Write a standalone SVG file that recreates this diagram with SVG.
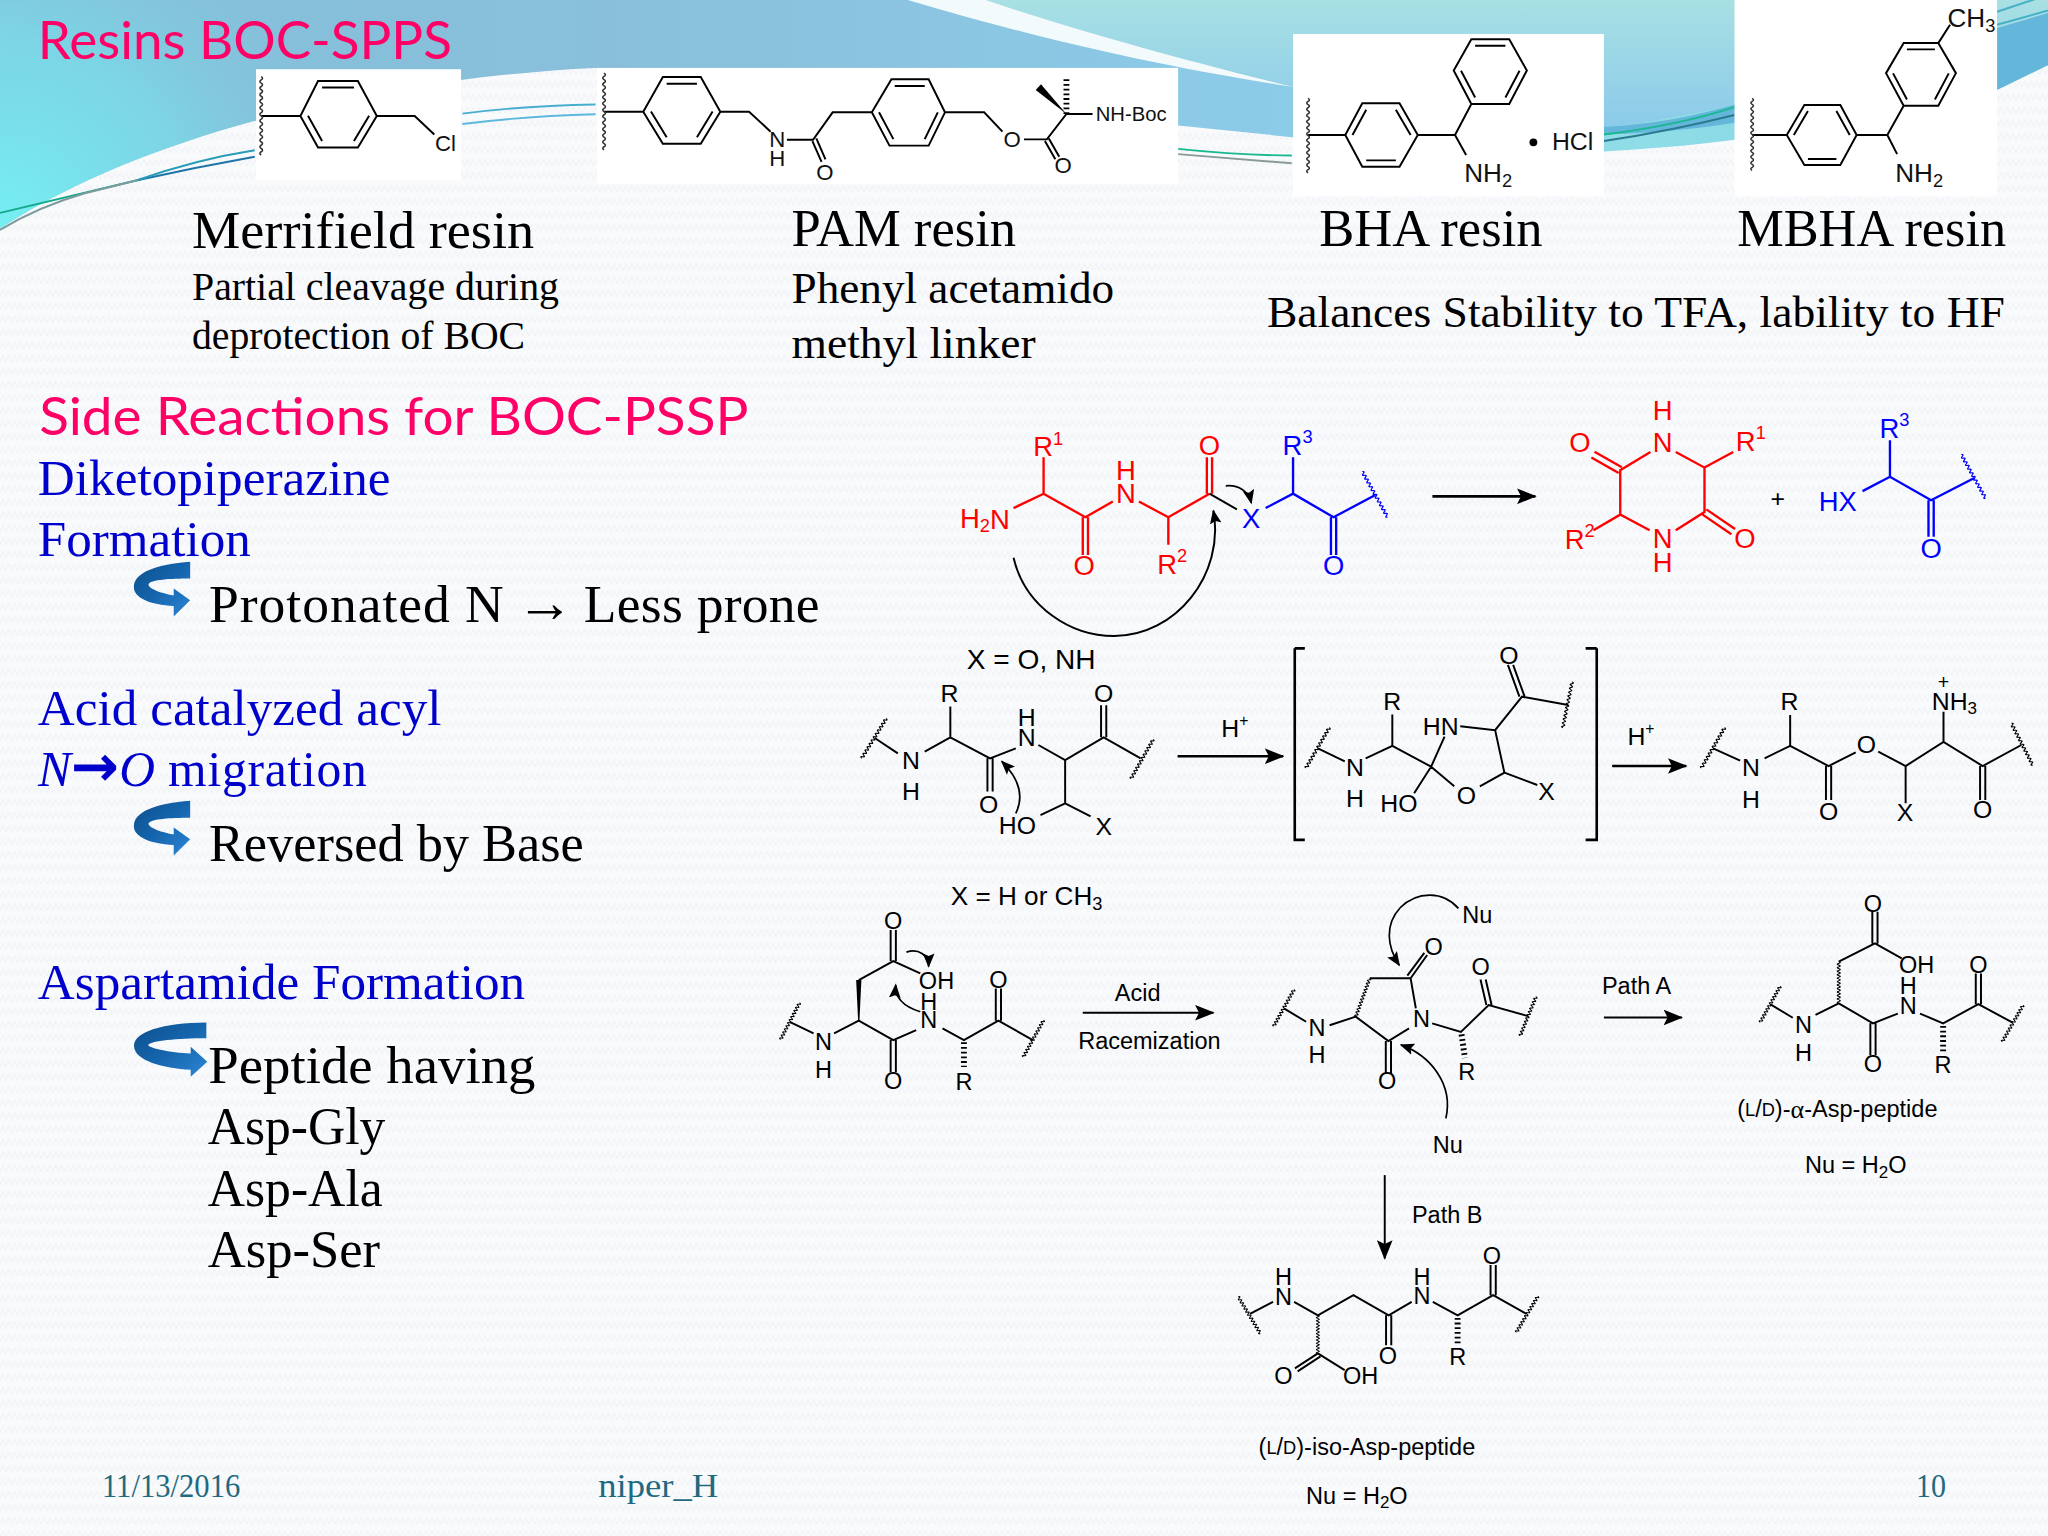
<svg xmlns="http://www.w3.org/2000/svg" width="2048" height="1536" viewBox="0 0 2048 1536">
<style>
text{font-family:"Liberation Sans",Arial,sans-serif}
.s{font-family:"Liberation Serif","Times New Roman",serif;fill:#000}
.t{font-size:40px}.m{font-size:34px}.n{font-size:31px}
.u{font-family:"Liberation Serif","Times New Roman",serif;fill:#0000cc;font-size:38px}
.p{font-family:Lato,"Open Sans",sans-serif;fill:#ff0066;font-size:40px}
.f{font-family:"Liberation Serif","Times New Roman",serif;fill:#1f6a80;font-size:26px}
.b{fill:none;stroke:#000;stroke-width:1.5}
.r{fill:none;stroke:#f00;stroke-width:1.8}
.l{fill:none;stroke:#00f;stroke-width:1.8}
.h{stroke:#000;stroke-width:4.5;stroke-dasharray:1.4 2.2;fill:none}
.a{fill:none;stroke:#000;stroke-width:2;marker-end:url(#ah)}
.c{fill:none;stroke:#000;stroke-width:1.5;marker-end:url(#sh)}
.d{fill:none;stroke:#000;stroke-width:1.3;marker-end:url(#sh)}
.x1{font-size:21px;dominant-baseline:central;text-anchor:middle;fill:#f00}
.x2{font-size:21px;dominant-baseline:central;text-anchor:middle;fill:#00f}
.y{font-size:19px;dominant-baseline:central;text-anchor:middle;fill:#000}
.z{font-size:18px;dominant-baseline:central;text-anchor:middle;fill:#000}
.q{font-size:17px;dominant-baseline:central;text-anchor:middle;fill:#111}
.g{font-size:20px;dominant-baseline:central;fill:#111}
.i{fill:url(#ribbon)}
</style>
<defs>
<linearGradient id="sky" gradientUnits="userSpaceOnUse" x1="0" y1="0" x2="1568" y2="0">
<stop offset="0" stop-color="#84c0da"/><stop offset=".3" stop-color="#89bfda"/><stop offset=".62" stop-color="#8ccbe8"/><stop offset=".8" stop-color="#8fdde6"/><stop offset="1" stop-color="#7fd0e0"/>
</linearGradient>
<radialGradient id="glow" gradientUnits="userSpaceOnUse" cx="0" cy="175" r="270">
<stop offset="0" stop-color="#75f0f2"/><stop offset=".55" stop-color="#7adbe8" stop-opacity=".75"/><stop offset="1" stop-color="#84c0da" stop-opacity="0"/>
</radialGradient>
<linearGradient id="pale" gradientUnits="userSpaceOnUse" x1="0" y1="0" x2="0" y2="95">
<stop offset="0" stop-color="#a8e0e3"/><stop offset="1" stop-color="#8ccbea"/>
</linearGradient>
<linearGradient id="ribbon" x1="0" y1="0" x2="1" y2="1">
<stop offset="0" stop-color="#0d4f8c"/><stop offset=".5" stop-color="#1565ad"/><stop offset="1" stop-color="#2c86d6"/>
</linearGradient>
<pattern id="zig" patternUnits="userSpaceOnUse" width="9" height="10">
<path d="M0,7 L2.25,2 L4.5,7 L6.75,2 L9,7" fill="none" stroke="#eef0f5" stroke-width=".7"/>
</pattern>
<marker id="ah" markerUnits="userSpaceOnUse" markerWidth="15" markerHeight="12" refX="14" refY="6" orient="auto"><path d="M0,0 L15,6 L0,12 L3,6 Z"/></marker>
<marker id="sh" markerUnits="userSpaceOnUse" markerWidth="11" markerHeight="9" refX="10" refY="4.5" orient="auto"><path d="M0,0 L11,4.5 L0,9 L2,4.5 Z"/></marker>
<path id="wv" d="M0,0 q2,1.25 0,2.5 q-2,1.25 0,2.5 q2,1.25 0,2.5 q-2,1.25 0,2.5 q2,1.25 0,2.5 q-2,1.25 0,2.5 q2,1.25 0,2.5 q-2,1.25 0,2.5 q2,1.25 0,2.5 q-2,1.25 0,2.5 q2,1.25 0,2.5 q-2,1.25 0,2.5 q2,1.25 0,2.5 q-2,1.25 0,2.5 q2,1.25 0,2.5 q-2,1.25 0,2.5 q2,1.25 0,2.5 q-2,1.25 0,2.5 q2,1.25 0,2.5 q-2,1.25 0,2.5 q2,1.25 0,2.5 q-2,1.25 0,2.5 q2,1.25 0,2.5 q-2,1.25 0,2.5" fill="none" stroke-width="1.2"/>
<path id="skypath" d="M0,0 H1568 V50 C1480,78 1400,100 1328,107 C1290,112 1260,114 1228,116 C1150,120 1050,112 989,105 L902,96 C800,75 700,60 600,52 L455,52 C330,58 130,90 0,175 Z"/>
</defs>
<g transform="scale(1.30612)">
<g id="background">
<rect width="1568" height="1176" fill="#f9fafc"/>
<rect width="1568" height="1176" fill="url(#zig)"/>
<use href="#skypath" fill="url(#sky)"/>
<use href="#skypath" fill="url(#glow)"/>
<path d="M755,0 H1568 V10 L1529,26 C1450,55 1400,75 1328,80 C1290,88 1260,95 1228,97 L1000,100 L992,67 C900,45 800,16 755,0 Z" fill="url(#pale)"/>
<path d="M1228,97 C1270,95 1300,88 1328,80 L1568,10 V50 L1529,69 C1450,85 1390,90 1328,94 C1290,100 1260,102 1228,103 Z" fill="#64b6da"/>
<path d="M695,0 L755,0 C800,16 900,45 992,67 C950,60 850,46 695,0 Z" fill="#f2fafb"/>
<g fill="none" stroke-width="1.5">
<path d="M0,163 Q55,150 105,138" stroke="#12a88c"/><path d="M105,138 Q150,128 195,120" stroke="#1f74a8"/>
<path d="M0,176 Q30,158 65,148 L105,138" stroke="#7d9a9c"/><path d="M105,138 Q150,122 195,115" stroke="#2a9cb8"/>
<path d="M354,87 Q400,81 456,80" stroke="#48aed0"/><path d="M354,95 Q400,89 456,87.5" stroke="#5cb8dc"/>
<path d="M902,114 Q950,119 989,119" stroke="#18b890"/><path d="M902,118 Q950,122 989,125" stroke="#8a9a9a"/>
<path d="M1228,103 Q1285,96 1328,82" stroke="#18b890"/><path d="M1228,108 Q1280,100 1328,88" stroke="#2a7a90"/>
<path d="M1529,9 L1568,-4" stroke="#45b0c8"/><path d="M1529,19 L1568,8" stroke="#45b0c8"/>
</g>
</g>
<g id="resin-panels" fill="#fff">
<rect x="196" y="53" width="157" height="85"/>
<rect x="457" y="52" width="445" height="89"/>
<rect x="990" y="26" width="238" height="124"/>
<rect x="1328" y="0" width="201" height="150"/>
</g>

<g id="merrifield">
<path class="b" d="M200,88.8 L230,88.8 L243.5,62 H274 L288.5,88.8 L274,113 H243.5 L230,88.8 M288.5,88.8 H317.5 L332.5,103 M246.6,67 H271 M235.8,88.6 L246.6,108 M282.6,88.6 L271,108"/>
<use href="#wv" stroke="#333" transform="translate(200,58.7)"/>
<text class="q" x="341" y="110">Cl</text>
</g>
<g id="pam">
<path class="b" d="M462.5,85.5 H492.5 L507.5,59 H536.5 L551.5,85.5 L536.5,110 H507.5 L492.5,85.5 M510.4,64.2 H533.6 M498.4,85.4 L510.4,105 M545.6,85.4 L533.6,105 M551.5,85.5 H573.5 L590,100.8 M602.5,107 H622.5 L637.5,86 H667.5 L682.5,60.7 H711 L723.5,86 L711,111.5 H681 L667.5,86 M685,65.8 H708 M673,86 L684,106.5 M718,86 L708,106.5 M723.5,86 H753.5 L767.5,100.8 M622,108 L629,124 M625,106 L632,122 M784,106.7 H801.5 L816.5,87.3 H836.5 M800,108 L808,122 M803,106 L811,120"/>
<path d="M816.5,87.3 L793,69 L797,64.5 Z"/>
<path class="h" d="M816.5,87.3 V58.7"/>
<use href="#wv" stroke="#333" transform="translate(462.5,56) scale(1,.98)"/>
<text class="q" x="595" y="107">N</text><text class="q" x="595" y="121">H</text><text class="q" x="631.5" y="132">O</text><text class="q" x="775" y="107">O</text><text class="q" x="814" y="127">O</text>
<text class="q" x="866" y="87.3" style="font-size:15.5px" fill="#444">NH-Boc</text>
</g>
<g id="bha">
<path class="b" d="M1001.5,103.4 H1030 L1043,79 H1071.5 L1085.5,103.4 L1071.5,127.6 H1043 L1030,103.4 M1035.5,103.4 L1046,84 M1080,103.4 L1068.7,84 M1046,122.8 H1068.7 M1085.5,103.4 H1114 L1126.5,79.6 H1155.5 L1169,54 L1155.5,30 H1126.5 L1113,54 L1126.5,79.6 M1129.4,35 H1152.6 M1118.6,54.2 L1129.4,74.6 M1163.4,54.2 L1152.6,74.6 M1114,103.4 L1122.5,118.7"/>
<use href="#wv" stroke="#333" transform="translate(1001.5,75.3) scale(1,.95)"/>
<text class="g" x="1121" y="132.7">NH<tspan font-size="14" dy="5">2</tspan></text>
<circle cx="1174" cy="109" r="3"/>
<text class="q" x="1204" y="108.5" style="font-size:19px">HCl</text>
</g>
<g id="mbha">
<path class="b" d="M1341.5,103.4 H1368 L1381.5,80.4 H1409 L1421.5,103.4 L1409,126.3 H1381.5 L1368,103.4 M1373.4,103.4 L1384.2,85 M1416.2,103.4 L1406,85 M1384.2,121.7 H1406 M1421.5,103.4 H1445 L1457.5,81 H1484 L1497.5,56 L1484,33 H1457.5 L1444,56 L1457.5,81 M1460,37.8 H1481.4 M1449.4,56.2 L1460,76.2 M1492,56.2 L1481.4,76.2 M1484,33 L1493,19 M1445,103.4 L1452.5,118"/>
<use href="#wv" stroke="#333" transform="translate(1341.5,75.3) scale(1,.92)"/>
<text class="g" x="1491" y="14">CH<tspan font-size="14" dy="5">3</tspan></text>
<text class="g" x="1451" y="132.7">NH<tspan font-size="14" dy="5">2</tspan></text>
</g>

<g id="titles">
<text class="p" x="29" y="45" textLength="317" lengthAdjust="spacingAndGlyphs">Resins BOC-SPPS</text>
<text class="p" x="30" y="333" textLength="543" lengthAdjust="spacingAndGlyphs">Side Reactions for BOC-PSSP</text>
</g>
<g id="resin-notes">
<text class="s t" x="147" y="190" textLength="262" lengthAdjust="spacingAndGlyphs">Merrifield resin</text>
<text class="s n" x="147" y="230" textLength="281" lengthAdjust="spacingAndGlyphs">Partial cleavage during</text>
<text class="s n" x="147" y="267" textLength="255" lengthAdjust="spacingAndGlyphs">deprotection of BOC</text>
<text class="s t" x="606" y="188" textLength="172" lengthAdjust="spacingAndGlyphs">PAM resin</text>
<text class="s m" x="606" y="232" textLength="247" lengthAdjust="spacingAndGlyphs">Phenyl acetamido</text>
<text class="s m" x="606" y="274" textLength="187" lengthAdjust="spacingAndGlyphs">methyl linker</text>
<text class="s t" x="1010" y="188" textLength="171" lengthAdjust="spacingAndGlyphs">BHA resin</text>
<text class="s t" x="1330" y="188" textLength="206" lengthAdjust="spacingAndGlyphs">MBHA resin</text>
<text class="s m" x="970" y="250" textLength="565" lengthAdjust="spacingAndGlyphs">Balances Stability to TFA, lability to HF</text>
</g>
<g id="side-reactions">
<text class="u" x="29" y="379" textLength="270" lengthAdjust="spacingAndGlyphs">Diketopiperazine</text>
<text class="u" x="29" y="426" textLength="163" lengthAdjust="spacingAndGlyphs">Formation</text>
<text class="s t" x="160" y="476"><tspan font-size="41" letter-spacing=".75">Protonated N </tspan><tspan x="395" font-family="'Liberation Sans',sans-serif" font-size="44">→ </tspan><tspan x="447" font-size="41" letter-spacing=".2">Less prone</tspan></text>
<text class="u" x="29" y="555" textLength="309" lengthAdjust="spacingAndGlyphs">Acid catalyzed acyl</text>
<text class="u" x="29" y="602"><tspan font-style="italic">N</tspan><tspan font-family="'DejaVu Sans',sans-serif" font-weight="bold" font-size="44">→</tspan><tspan font-style="italic">O</tspan><tspan letter-spacing=".55"> migration</tspan></text>
<text class="s t" x="160" y="659" textLength="287" lengthAdjust="spacingAndGlyphs">Reversed by Base</text>
<text class="u" x="29" y="765" textLength="373" lengthAdjust="spacingAndGlyphs">Aspartamide Formation</text>
<text class="s t" x="159.5" y="829" textLength="250.5" lengthAdjust="spacingAndGlyphs">Peptide having</text>
<text class="s t" x="159" y="876" textLength="136" lengthAdjust="spacingAndGlyphs">Asp-Gly</text>
<text class="s t" x="159" y="923" textLength="134" lengthAdjust="spacingAndGlyphs">Asp-Ala</text>
<text class="s t" x="159" y="970" textLength="132" lengthAdjust="spacingAndGlyphs">Asp-Ser</text>
<path class="i" d="M145.6,430 C120,432 102,438 102.5,450 C103,458 115,463 133,464 L133,472 L145.6,459.5 L133,450.5 L133,456 C122,454 112,450 114,447 C116,444 130,443 145.6,443 Z"/>
<path class="i" d="M145.6,613 C120,615 102,621 102.5,633 C103,641 115,646 133,647 L133,655 L145.6,642.5 L133,633.5 L133,639 C122,637 112,633 114,630 C116,627 130,626 145.6,626 Z"/>
<path class="i" d="M158,782.8 C125,783 102,790 102.6,801 C103,812 125,818 146,819 L146,824.4 L158.7,812.9 L146,801.4 L146,806.5 C130,806 113,802 113.5,800 C116,797 135,795 158,795 Z"/>
</g>
<g id="footer">
<text class="f" x="78" y="1146" textLength="106" lengthAdjust="spacingAndGlyphs">11/13/2016</text>
<text class="f" x="458" y="1146" textLength="92" lengthAdjust="spacingAndGlyphs">niper_H</text>
<text class="f" x="1467" y="1146" textLength="23" lengthAdjust="spacingAndGlyphs">10</text>
</g>

<g id="dkp-substrate">
<path class="r" d="M776,389 L799,378 L831,396 L852,384 M799,378 V350 M829,396 V425 M833,396 V425 M872,384 L894.5,396 L926,378 M894.5,396 V417 M924,378 V350 M928,378 V350"/>
<path class="b" d="M926,378 L947,390"/>
<path class="l" d="M969,389 L990,378 L1021,396 L1053,379 M990,378 V350 M1019,396 V425 M1023,396 V425"/>
<use href="#wv" stroke="#00f" transform="translate(1043,361) rotate(-29) scale(1,.667)"/>
<g><text class="x1" x="735" y="397" style="text-anchor:start">H<tspan font-size="14" dy="5">2</tspan><tspan dy="-5">N</tspan></text>
<text class="x1" x="791" y="342" style="text-anchor:start">R<tspan font-size="14" dy="-7">1</tspan></text>
<text class="x1" x="830" y="433">O</text><text class="x1" x="862" y="378">N</text><text class="x1" x="862" y="360">H</text>
<text class="x1" x="886" y="432" style="text-anchor:start">R<tspan font-size="14" dy="-7">2</tspan></text>
<text class="x1" x="926" y="341">O</text></g>
<text class="x2" x="958" y="397">X</text>
<text class="x2" x="982" y="341" style="text-anchor:start">R<tspan font-size="14" dy="-7">3</tspan></text>
<text class="x2" x="1021" y="433">O</text>
<text class="y" x="789.5" y="505" style="font-size:21.5px">X = O, NH</text>
</g>
<g id="dkp-ring">
<path class="r" d="M1263.6,346 L1240.5,360 V394 L1263,406 M1283,346 L1305,358 V392 L1283,406 M1241.7,357.8 L1220.8,345.8 M1239.3,362.2 L1218.4,350.2 M1305,358 L1327,346 M1306.4,390 L1328.4,405 M1303.6,394 L1325.6,409 M1240.5,394 L1220,406"/>
<text class="x1" x="1273" y="339">N</text><text class="x1" x="1273" y="314">H</text><text class="x1" x="1209.6" y="339">O</text>
<text class="x1" x="1329" y="338" style="text-anchor:start">R<tspan font-size="14" dy="-7">1</tspan></text>
<text class="x1" x="1336" y="412">O</text><text class="x1" x="1273" y="412">N</text><text class="x1" x="1273" y="431">H</text>
<text class="x1" x="1198" y="413" style="text-anchor:start">R<tspan font-size="14" dy="-7">2</tspan></text>
<text x="1361" y="381.5" style="font-size:19px;dominant-baseline:central;text-anchor:middle">+</text>
</g>
<g id="dkp-fragment">
<path class="l" d="M1426,376 L1447,365 L1478.5,383 L1511.6,366 M1447,365 V337 M1476.5,383 V411 M1480.5,383 V411"/>
<use href="#wv" stroke="#00f" transform="translate(1501.6,348) rotate(-29) scale(1,.64)"/>
<text class="x2" x="1407" y="384">HX</text>
<text class="x2" x="1439" y="328" style="text-anchor:start">R<tspan font-size="14" dy="-7">3</tspan></text>
<text class="x2" x="1478.5" y="420">O</text>
</g>

<g id="nto-substrate">
<path class="b" d="M669.7,565 L687.4,576.8 M708,575.5 L727.6,564.5 L758,580.6 L777.7,573 M727.6,564.5 V541 M756,580.6 V606 M760,580.6 V606 M795,570.4 L815.5,582 L845,564.5 L873.3,580.6 M843,564.5 V540 M847,564.5 V540 M815.5,582 V615 L796.6,624 M815.5,615 L835,625"/>
<use href="#wv" stroke="#000" transform="translate(678.6,550) rotate(31.7) scale(1,.6)"/>
<use href="#wv" stroke="#000" transform="translate(883,566) rotate(29.5) scale(1,.58)"/>
<text class="y" x="697.5" y="582">N</text><text class="y" x="697.5" y="606">H</text><text class="y" x="727" y="531">R</text><text class="y" x="757" y="616">O</text><text class="y" x="786" y="565">N</text><text class="y" x="786" y="549">H</text><text class="y" x="845" y="531">O</text><text class="y" x="779" y="632">HO</text><text class="y" x="845" y="633">X</text>
<text class="y" x="728" y="686" style="text-anchor:start;font-size:20px">X = H or CH<tspan font-size="14" dy="5">3</tspan></text>
</g>
<g id="nto-intermediate">
<path class="b" d="M991.3,496.4 H999 M991.3,496.4 V643 H999 M1222.5,496.4 H1214 M1222.5,496.4 V643 H1214" style="stroke-width:2"/>
<path class="b" d="M1009,573 L1029.6,583 M1045.6,580.6 L1066,571 L1095.7,587 L1082.7,607.4 M1066,571 V547 M1095.7,587 L1106,564 M1118,556 L1144.7,559 L1165.3,533.4 L1200.7,539.8 M1163.3,533.4 L1154.5,509 M1167.3,533.4 L1158.5,509 M1144.7,559 L1151.8,591.6 L1133,602 M1113.4,602 L1095.7,587 M1151.8,591.6 L1177,601"/>
<use href="#wv" stroke="#000" transform="translate(1017.8,557) rotate(30) scale(1,.6)"/>
<use href="#wv" stroke="#000" transform="translate(1203.7,522) rotate(11.5) scale(1,.6)"/>
<text class="y" x="1037.3" y="588">N</text><text class="y" x="1037.3" y="611">H</text><text class="y" x="1066" y="537">R</text><text class="y" x="1103" y="556">HN</text><text class="y" x="1155.3" y="501.5">O</text><text class="y" x="1122.8" y="609.4">O</text><text class="y" x="1184" y="606">X</text><text class="y" x="1071" y="615">HO</text>
</g>
<g id="nto-product">
<path class="b" d="M1311.6,573 L1332.3,582.4 M1351,580.6 L1370.6,571 L1400,586.5 L1420.8,576 M1370.6,571 V547.4 M1398,586.5 V612.5 M1402,586.5 V612.5 M1438,575.5 L1459,586.5 L1488,568 L1518,586.5 L1547.6,570.4 M1459,586.5 V615 M1488,568 V545 M1516,586.5 V612.5 M1520,586.5 V612.5"/>
<use href="#wv" stroke="#000" transform="translate(1320.5,557) rotate(30) scale(1,.6)"/>
<use href="#wv" stroke="#000" transform="translate(1540,553.8) rotate(-27) scale(1,.6)"/>
<text class="y" x="1340.5" y="588">N</text><text class="y" x="1340.5" y="612">H</text><text class="y" x="1370" y="537">R</text><text class="y" x="1400" y="621">O</text><text class="y" x="1429" y="570">O</text><text class="y" x="1458.5" y="622">X</text>
<text class="y" x="1479" y="537" style="text-anchor:start">NH<tspan font-size="13" dy="5">3</tspan></text><text class="y" x="1488" y="522" style="font-size:15px">+</text>
<text class="y" x="1518" y="620">O</text>
</g>

<g id="asp-substrate">
<path class="b" d="M604.6,782.3 L622.9,791.2 M638.6,791.2 L657.5,781.5 L683.9,796.3 L701.5,788.7 M657.5,750.4 L683.9,735.8 L704.6,745.3 M681.9,735.8 V712 M685.9,735.8 V712 M681.9,796.3 V821 M685.9,796.3 V821 M721.6,787.4 L738,796.3 L764.4,781.5 L790.8,796.3 M762.4,781.5 V756.8 M766.4,781.5 V756.8"/>
<path d="M657,781.5 L655.5,750.4 L659.5,750.4 L658,781.5 Z"/>
<path class="h" d="M738,798 V817"/>
<use href="#wv" stroke="#000" transform="translate(612.2,767.7) rotate(27.4) scale(1,.53)"/>
<use href="#wv" stroke="#000" transform="translate(799,781) rotate(28.8) scale(1,.54)"/>
<text class="z" x="630.4" y="798">N</text><text class="z" x="630.4" y="819">H</text><text class="z" x="683.9" y="705">O</text><text class="z" x="717" y="751">OH</text><text class="z" x="683.9" y="828">O</text><text class="z" x="711" y="781">N</text><text class="z" x="711" y="767">H</text><text class="z" x="738" y="828.7">R</text><text class="z" x="764.4" y="750.4">O</text>
<text class="z" x="871" y="760">Acid</text><text class="z" x="880" y="797">Racemization</text>
</g>
<g id="asp-imide">
<path class="b" d="M983,772 L1000,782.3 M1018,785 L1038,778.4 L1063,797 L1078.8,787.4 M1048.7,749 H1080 L1084,772 M1080,749 L1092.7,731.2 M1077.5,747 L1090.5,729.5 M1061,797 V822 M1065,797 V822 M1096.5,783.5 L1118.5,790 L1139.8,769.5 L1170,778 M1138,769.5 L1133.5,750 M1142,769.5 L1137.5,750"/>
<path class="h" d="M1119,792 L1121.6,810"/>
<use href="#wv" stroke="#000" transform="translate(990.8,757.5) rotate(29) scale(1,.54)"/>
<use href="#wv" stroke="#000" transform="translate(1176,763) rotate(22) scale(1,.54)"/>
<use href="#wv" stroke="#000" transform="translate(1048.7,749) rotate(20) scale(1,.52)"/>
<text class="z" x="1008.4" y="787">N</text><text class="z" x="1008.4" y="808">H</text><text class="z" x="1097.7" y="725">O</text><text class="z" x="1088.3" y="780">N</text><text class="z" x="1062" y="828">O</text><text class="z" x="1123" y="821">R</text><text class="z" x="1133.6" y="740">O</text><text class="z" x="1131" y="700.6">Nu</text><text class="z" x="1108.4" y="876.7">Nu</text><text class="z" x="1253" y="755">Path A</text>
</g>
<g id="asp-alpha">
<path class="b" d="M1355.6,769 L1372.6,779.2 M1390,777 L1407.8,768.2 L1434,783.5 L1453,776 M1407.8,736.3 L1435.5,722.3 L1456,733.8 M1433.5,722.3 V698 M1437.5,722.3 V698 M1432,783.5 V808 M1436,783.5 V808 M1470,776 L1487.7,783.5 L1514.7,768.8 L1541,783 M1512.7,768.8 V745.3 M1516.7,768.8 V745.3"/>
<path class="h" d="M1487.7,785.5 V806"/>
<use href="#wv" stroke="#000" transform="translate(1363,755) rotate(29) scale(1,.53)"/>
<use href="#wv" stroke="#000" transform="translate(1549,769.5) rotate(29.7) scale(1,.54)"/>
<use href="#wv" stroke="#000" transform="translate(1407.8,736.3) scale(1,.53)"/>
<text class="z" x="1380.8" y="785">N</text><text class="z" x="1380.8" y="806">H</text><text class="z" x="1434" y="692">O</text><text class="z" x="1467.5" y="739">OH</text><text class="z" x="1434" y="815">O</text><text class="z" x="1461" y="770">N</text><text class="z" x="1461" y="755">H</text><text class="z" x="1487.7" y="815.5">R</text><text class="z" x="1514.7" y="739">O</text>
<text class="z" x="1330" y="849" style="text-anchor:start">(<tspan font-size="14">L</tspan>/<tspan font-size="14">D</tspan>)-<tspan font-family="'Liberation Serif',serif" font-size="20">α</tspan>-Asp-peptide</text>
<text class="z" x="1382" y="892" style="text-anchor:start">Nu = H<tspan font-size="13" dy="5">2</tspan><tspan dy="-5">O</tspan></text>
</g>
<g id="asp-iso">
<path class="b" d="M957,1006 L974.7,996.7 M990.8,996.7 L1009,1007 L1036.2,991.6 L1063.2,1007 L1080.8,996.7 M1061.2,1007 V1030 M1065.2,1007 V1030 M1097,996.7 L1116,1007 L1143.2,991.6 L1168.7,1006 M1141.2,991.6 V968.6 M1145.2,991.6 V968.6 M1009,1036.2 L991.4,1047.7 M1011,1038.5 L993.5,1050 M1009,1036.2 L1029.5,1049"/>
<path class="h" d="M1116,1009 V1029"/>
<use href="#wv" stroke="#000" transform="translate(948,992.8) rotate(-31) scale(1,.55)"/>
<use href="#wv" stroke="#000" transform="translate(1177.5,992.3) rotate(30.9) scale(1,.54)"/>
<use href="#wv" stroke="#000" transform="translate(1009,1007) scale(1,.49)"/>
<text class="z" x="982.6" y="992.8">N</text><text class="z" x="982.6" y="977.5">H</text><text class="z" x="1062.6" y="1038.3">O</text><text class="z" x="1088.7" y="992.3">N</text><text class="z" x="1088.7" y="977.5">H</text><text class="z" x="1116" y="1038.8">R</text><text class="z" x="1142.3" y="961.7">O</text><text class="z" x="982.6" y="1053.6">O</text><text class="z" x="1041.8" y="1053.6">OH</text>
<text class="z" x="963.6" y="1108" style="text-anchor:start">(<tspan font-size="14">L</tspan>/<tspan font-size="14">D</tspan>)-iso-Asp-peptide</text>
<text class="z" x="1000" y="1145" style="text-anchor:start">Nu = H<tspan font-size="13" dy="5">2</tspan><tspan dy="-5">O</tspan></text>
<text class="z" x="1081" y="930" style="text-anchor:start">Path B</text>
</g>

<g id="connectors">
<path class="a" d="M1096.7,380 H1175.5"/>
<path class="c" d="M776,427 C785,465 820,487 853,487 C900,487 938,440 929,391"/>
<path class="d" d="M938.5,372 C948,371 956,376 958,385"/>
<path class="a" d="M901.6,579 H982.4"/>
<text class="y" x="935" y="558" style="text-anchor:start">H<tspan font-size="12" dy="-7">+</tspan></text>
<path class="d" d="M777.7,622.7 C786,606 776,592 767,583"/>
<path class="a" d="M1234.3,586.5 H1291"/>
<text class="y" x="1246" y="564" style="text-anchor:start">H<tspan font-size="12" dy="-7">+</tspan></text>
<path class="d" d="M694,729 C703,726 711,731 711,740"/>
<path class="d" d="M704.6,774.6 C693,771 685,765 685.8,754"/>
<path class="a" d="M829,775.4 H929" style="stroke-width:1.5"/>
<path class="d" d="M1116.6,695.5 C1105,682 1085,682 1072,695 C1060,708 1062,725 1071.3,739"/>
<path class="d" d="M1107,856.3 C1113,830 1095,808 1072.6,800"/>
<path class="a" d="M1228,779 H1287.7" style="stroke-width:1.5"/>
<path class="a" d="M1060.2,899.7 V963.5" style="stroke-width:1.5"/>
</g>
</g>
</svg>
